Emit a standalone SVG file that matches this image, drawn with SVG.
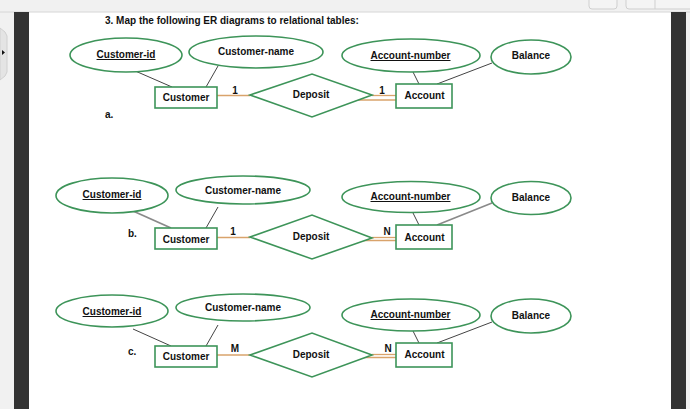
<svg xmlns="http://www.w3.org/2000/svg" width="690" height="409" viewBox="0 0 690 409">
<style>
text{font-family:"Liberation Sans",Arial,sans-serif;font-size:10px;font-weight:bold;fill:#111}
.c{text-anchor:middle}
.u{text-decoration:underline}
.ent{fill:#fff;stroke:#3d9459;stroke-width:1.6}
.att{fill:#fff;stroke:#3d9459;stroke-width:1.6}
.rel{fill:#fff;stroke:#3d9459;stroke-width:1.6}
.al{stroke:#444;stroke-width:1}
.ag{stroke:#8a8a8a;stroke-width:1.8}
.or{stroke:#d9a36b;stroke-width:1.3}
</style>
<rect x="0" y="0" width="690" height="409" fill="#f1f1f1"/>
<rect x="29" y="12" width="642" height="397" fill="#fff"/>
<line x1="0" y1="12" x2="690" y2="12" stroke="#d6d6d6"/>
<rect x="14" y="12" width="15" height="397" fill="#333"/>
<rect x="671" y="12" width="15" height="397" fill="#333"/>
<path d="M0 28 L5 32 L7 36 L7 72 L5 76 L0 80 Z" fill="#e4e4e4" stroke="#d0d0d0"/>
<polygon points="2,50 5,52.5 2,55" fill="#111"/>
<rect x="589" y="-4" width="28" height="13" rx="3" fill="#f4f4f4" stroke="#cfcfcf"/>
<rect x="626" y="-4" width="70" height="13" rx="3" fill="#f4f4f4" stroke="#cfcfcf"/>
<line x1="655" y1="0" x2="655" y2="9" stroke="#cfcfcf"/>
<text x="105" y="24">3. Map the following ER diagrams to relational tables:</text>
<text x="105" y="118">a.</text>
<text x="128" y="237">b.</text>
<text x="128" y="355">c.</text>

<g id="connectors">
<line class="al" x1="133" y1="70" x2="172" y2="87"/>
<line class="al" x1="218" y1="66" x2="206" y2="87"/>
<line class="al" x1="413" y1="72" x2="419" y2="84"/>
<line class="al" x1="492" y1="63" x2="437" y2="84"/>
<line class="or" x1="217" y1="95.5" x2="250" y2="95.5"/>
<line class="or" x1="372" y1="95.5" x2="396" y2="95.5"/>
<line class="or" x1="358" y1="100" x2="396" y2="100"/>
<text class="c" x="235" y="94">1</text>
<text class="c" x="382" y="94">1</text>

<line class="ag" x1="133" y1="211" x2="171" y2="228"/>
<line class="al" x1="218" y1="207" x2="206" y2="228"/>
<line class="al" x1="413" y1="213" x2="419" y2="225"/>
<line class="ag" x1="492" y1="203" x2="437" y2="225"/>
<line class="or" x1="217" y1="237.5" x2="250" y2="237.5"/>
<line class="or" x1="372" y1="237.5" x2="396" y2="237.5"/>
<line class="or" x1="361" y1="240.5" x2="396" y2="240.5"/>
<text class="c" x="233" y="235">1</text>
<text class="c" x="387" y="235">N</text>

<line class="al" x1="133" y1="329" x2="171" y2="346"/>
<line class="al" x1="218" y1="325" x2="206" y2="346"/>
<line class="al" x1="413" y1="331" x2="419" y2="343"/>
<line class="al" x1="492" y1="322" x2="437" y2="343"/>
<line class="or" x1="217" y1="355" x2="250" y2="355"/>
<line class="or" x1="372" y1="354.5" x2="396" y2="354.5"/>
<line class="or" x1="363" y1="357.5" x2="396" y2="357.5"/>
<text class="c" x="235" y="352">M</text>
<text class="c" x="388" y="352">N</text>
</g>

<g id="a-customer-id"><ellipse class="att" cx="126" cy="55" rx="56" ry="17"/><text class="c u" x="126" y="58">Customer-id</text></g>
<g id="a-customer-name"><ellipse class="att" cx="256" cy="52" rx="67" ry="16"/><text class="c" x="256" y="55">Customer-name</text></g>
<g id="a-customer"><rect class="ent" x="155" y="87" width="62" height="21"/><text class="c" x="186" y="101">Customer</text></g>
<g id="a-deposit"><polygon class="rel" points="250,95 312,74 372,95 312,117"/><text class="c" x="311" y="98">Deposit</text></g>
<g id="a-account-number"><ellipse class="att" cx="411" cy="55.5" rx="69" ry="16.5"/><text class="c u" x="410.5" y="59">Account-number</text></g>
<g id="a-balance"><ellipse class="att" cx="531" cy="57" rx="40" ry="17"/><text class="c" x="531" y="59">Balance</text></g>
<g id="a-account"><rect class="ent" x="396" y="84" width="56" height="24"/><text class="c" x="424.5" y="99">Account</text></g>

<g id="b-customer-id"><ellipse class="att" cx="112" cy="195.5" rx="56" ry="17.5"/><text class="c u" x="112" y="198">Customer-id</text></g>
<g id="b-customer-name"><ellipse class="att" cx="243" cy="190" rx="67" ry="14"/><text class="c" x="243" y="194">Customer-name</text></g>
<g id="b-customer"><rect class="ent" x="155" y="228" width="62" height="21"/><text class="c" x="186" y="243">Customer</text></g>
<g id="b-deposit"><polygon class="rel" points="250,237 312,215 372,238 312,259"/><text class="c" x="311" y="240">Deposit</text></g>
<g id="b-account-number"><ellipse class="att" cx="411" cy="197" rx="69" ry="15.5"/><text class="c u" x="410.5" y="200">Account-number</text></g>
<g id="b-balance"><ellipse class="att" cx="531" cy="198" rx="40" ry="16.5"/><text class="c" x="531" y="201">Balance</text></g>
<g id="b-account"><rect class="ent" x="396" y="225" width="56" height="24"/><text class="c" x="424.5" y="241">Account</text></g>

<g id="c-customer-id"><ellipse class="att" cx="112" cy="311" rx="56" ry="16"/><text class="c u" x="112" y="315">Customer-id</text></g>
<g id="c-customer-name"><ellipse class="att" cx="243" cy="307.5" rx="67" ry="13.5"/><text class="c" x="243" y="311">Customer-name</text></g>
<g id="c-customer"><rect class="ent" x="155" y="346" width="62" height="21"/><text class="c" x="186" y="360">Customer</text></g>
<g id="c-deposit"><polygon class="rel" points="250,355 312,333 372,355 312,377"/><text class="c" x="311" y="358">Deposit</text></g>
<g id="c-account-number"><ellipse class="att" cx="411" cy="315" rx="69" ry="16"/><text class="c u" x="410.5" y="318">Account-number</text></g>
<g id="c-balance"><ellipse class="att" cx="531" cy="316" rx="40" ry="17"/><text class="c" x="531" y="319">Balance</text></g>
<g id="c-account"><rect class="ent" x="396" y="343" width="56" height="24"/><text class="c" x="424.5" y="358">Account</text></g>
</svg>
